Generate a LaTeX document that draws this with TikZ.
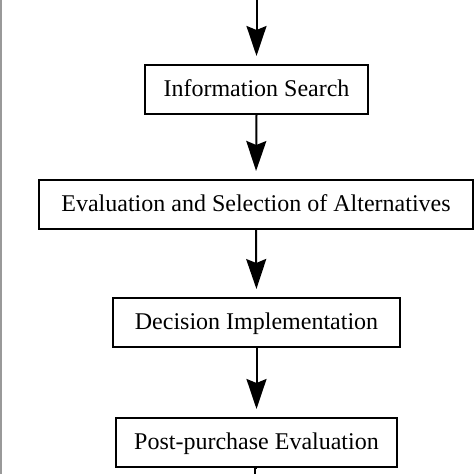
\documentclass[tikz,border=0pt]{standalone}
\usepackage{fontspec}
\setmainfont{Liberation Serif}
\usetikzlibrary{arrows.meta}
\begin{document}
\begin{tikzpicture}[x=1pt,y=1pt,
  stagebox/.style={draw=black, line width=2pt, inner sep=0pt,
    font=\fontsize{24}{28}\selectfont, text height=18pt, text depth=3pt,
    minimum height=49pt},
  flowarrow/.style={line width=2pt, -{Stealth[length=30pt, width=20pt, inset=4pt]}, shorten >=8pt}
]
\useasboundingbox (0,0) rectangle (474,474);
\fill[fill=black!40] (0,0) rectangle (2,474);
\coordinate (top) at (256.5,474);
\node[stagebox, minimum width=223pt] (b1) at (256.5,384.5) {Information Search};
\node[stagebox, minimum width=434pt] (b2) at (256,269.5) {Evaluation and Selection of Alternatives};
\node[stagebox, minimum width=287pt] (b3) at (256.5,151.5) {Decision Implementation};
\node[stagebox, minimum width=281pt] (b4) at (256.5,31.5) {Post-purchase Evaluation};
\coordinate (bottom) at (255,0);
\draw[flowarrow] (top) -- (b1.north);
\draw[flowarrow] (b1.south) -- (b2.north);
\draw[flowarrow] (b2.south) -- (b3.north);
\draw[flowarrow] (b3.south) -- (b4.north);
\draw[line width=2pt] (b4.south) -- (bottom |- b4.south) -- (bottom);
\end{tikzpicture}
\end{document}
